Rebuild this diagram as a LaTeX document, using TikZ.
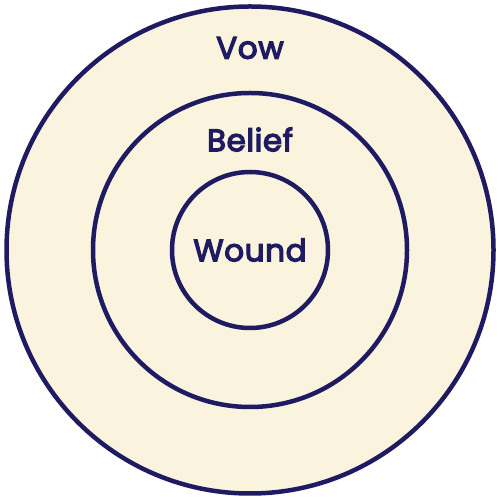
\documentclass[tikz,border=0pt]{standalone}
\usepackage{fontspec}
\setmainfont{Poppins}[BoldFont={Poppins},BoldFeatures={FakeBold=4,LetterSpace=2}]
\usepackage{xcolor}
\usetikzlibrary{positioning}

\begin{document}
\begin{tikzpicture}[x=1pt,y=1pt]
      \definecolor{mycream}{HTML}{FAF3DE}
      \definecolor{mynavy}{HTML}{1F1B62}

      \def\Rvow{243.5}
      \def\Rbelief{157}
      \def\Rwound{78}

      \tikzset{
        ring/.style={draw=mynavy,line width=4.5,fill=mycream},
        lbl/.style={text=mynavy,font=\fontsize{31}{32}\selectfont\bfseries,inner sep=0}
      }

      \useasboundingbox (0,0) rectangle (500,500);
      \coordinate (O) at (250,250);

      % RINGS
      \draw[ring] (O) circle(\Rvow);
      \draw[ring] (O) circle(\Rbelief);
      \draw[ring] (O) circle(\Rwound);

      % LABELS
      \node[lbl] (vow) at (250,452) {Vow};
      \node[lbl] (belief) at (250,360.5) {Belief};
      \node[lbl] (wound) at (O) {Wound};

    \end{tikzpicture}
\end{document}
